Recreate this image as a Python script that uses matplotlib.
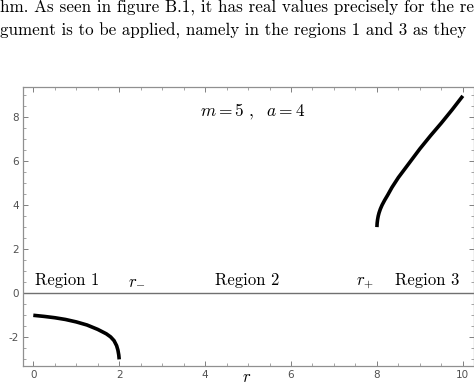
import matplotlib
matplotlib.use("Agg")
import matplotlib.pyplot as plt
from matplotlib.ticker import MultipleLocator

# --------------------------------------------------------------
# Data
# --------------------------------------------------------------
r_region1 = [0.0, 0.25, 0.5, 0.75, 1.0, 1.25, 1.5, 1.7, 1.8, 1.88, 1.94, 1.97, 1.99, 2.0]
y_region1 = [-1.0, -1.05, -1.11, -1.19, -1.3, -1.44, -1.64, -1.84, -1.98, -2.15, -2.38, -2.58, -2.8, -3.0]

r_region3 = [8.0, 8.005, 8.015, 8.03, 8.05, 8.08, 8.12, 8.18, 8.25, 8.35, 8.5, 8.75, 9.0, 9.25, 9.5, 9.75, 10.0]
y_region3 = [3.0, 3.18, 3.34, 3.5, 3.65, 3.82, 4.0, 4.22, 4.45, 4.8, 5.25, 5.9, 6.55, 7.15, 7.72, 8.32, 8.95]

region_labels = ["Region 1", "Region 2", "Region 3"]
region_x = [0.03, 4.99, 8.43]
horizon_labels = [r"$r_{-}$", r"$r_{+}$"]
horizon_x = [2.2, 7.52]
params_label = r"$m=5\ ,\ \ a=4$"

para_lines = [
    "hm. As seen in figure B.1, it has real values precisely for the re",
    "gument is to be applied, namely in the regions 1 and 3 as they",
]

x_ticks = [0, 2, 4, 6, 8, 10]
y_ticks = [-2, 0, 2, 4, 6, 8]

# --------------------------------------------------------------
# Plot settings
# --------------------------------------------------------------
plt.rcParams["mathtext.fontset"] = "cm"
plt.rcParams["axes.unicode_minus"] = False

fig = plt.figure(figsize=(4.74, 3.86), dpi=100)
ax = fig.add_axes([0.0485, 0.0518, 0.9515, 0.7232])

ax.plot(r_region1, y_region1, color="black", lw=2.6, solid_capstyle="butt", solid_joinstyle="round")
ax.plot(r_region3, y_region3, color="black", lw=2.6, solid_capstyle="butt", solid_joinstyle="round")
ax.axhline(0, color="#707070", lw=1.0)

ax.set_xlim(-0.24, 10.26)
ax.set_ylim(-3.3, 9.36)
ax.set_xticks(x_ticks)
ax.set_yticks(y_ticks)
ax.xaxis.set_minor_locator(MultipleLocator(0.5))
ax.yaxis.set_minor_locator(MultipleLocator(0.5))
ax.tick_params(which="both", direction="in", top=True, right=True, color="#808080")
ax.tick_params(which="major", length=3.5, width=0.7, labelsize=7.5, labelcolor="#505050", pad=3)
ax.tick_params(which="minor", length=2, width=0.5)
for s in ax.spines.values():
    s.set_color("#909090")
    s.set_linewidth(0.9)

# region / horizon labels
for lab, x in zip(region_labels, region_x):
    ha = "center" if lab == "Region 2" else "left"
    ax.text(x, 0.36, lab, family="cmr10", fontsize=12, ha=ha, va="baseline")
for lab, x in zip(horizon_labels, horizon_x):
    ax.text(x, 0.36, lab, fontsize=12, ha="left", va="baseline")
ax.text(3.87, 8.0, params_label, fontsize=12.5, ha="left", va="baseline")

# axis label r
ax.text(4.97, -0.038, r"$r$", fontsize=12, ha="center", va="center",
        transform=ax.get_xaxis_transform())

# paragraph text above the figure
fig.text(0.0, 1 - 12 / 386, para_lines[0], family="cmr10", fontsize=12.3, va="baseline")
fig.text(0.0, 1 - 36 / 386, para_lines[1], family="cmr10", fontsize=12.2, va="baseline")

fig.savefig("out.png", dpi=100)
